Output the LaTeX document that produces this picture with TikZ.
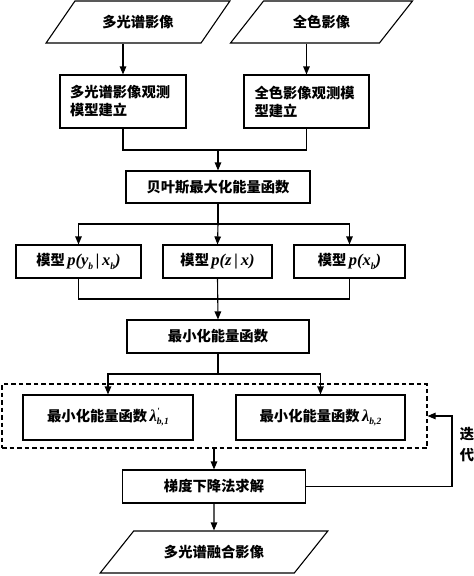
\documentclass[tikz,border=0pt]{standalone}
\usepackage{fontspec}
\setmainfont{Noto Sans CJK SC}
\newfontfamily\tms{Liberation Serif}
\newcommand\tbi[1]{{\fontsize{16.5}{18}\selectfont\tms\bfseries\itshape #1}}
\newcommand\sbs[1]{\raisebox{-0.45ex}{\fontsize{9.5}{10}\selectfont\tms\bfseries\itshape #1}}
\newcommand\sps[1]{\raisebox{0.85ex}{\fontsize{9.5}{10}\selectfont\tms\bfseries\itshape #1}}
\usetikzlibrary{arrows.meta,shapes.geometric}
\begin{document}
\begin{tikzpicture}[x=1pt,y=-1pt,line width=1.1pt,
  font=\fontsize{14.3}{18}\selectfont\bfseries,
  box/.style={draw, rectangle, inner sep=2pt, minimum height=33pt},
  para/.style={draw, trapezium, trapezium stretches=true, minimum height=42pt, inner sep=1pt},
  arr/.style={-{Triangle[length=8pt,width=6.5pt]}},
  dashbox/.style={draw, dashed, dash pattern=on 4.5pt off 3pt, rectangle, inner sep=0pt}]
\fill[white] (0,0) rectangle (474,576);
\useasboundingbox (0,0) rectangle (474,576);

% inputs
\node[para, minimum width=184pt, trapezium left angle=43.03, trapezium right angle=136.97] (ms) at (138,22) {多光谱影像};
\node[para, minimum width=183pt, trapezium left angle=43.03, trapezium right angle=136.97] (pan) at (321.5,22) {全色影像};

% observation models
\node[box, minimum width=126pt, minimum height=53pt, text width=106pt, align=left] (b1) at (123,101.5) {多光谱影像观测\\模型建立};
\node[box, minimum width=125pt, minimum height=53pt, text width=104pt, align=left] (b2) at (306.5,101.5) {全色影像观测模\\型建立};

\node[box, minimum width=184pt, minimum height=32pt] (b3) at (218,187) {贝叶斯最大化能量函数};

% three models
\node[box, minimum width=125pt] (pl) at (78.5,261.5) {模型\,\tbi{p(y\sbs{b}\,|\,x\sbs{b})}};
\node[box, minimum width=109pt] (pm) at (217.5,261.5) {模型\,\tbi{p(z\,|\,x)}};
\node[box, minimum width=111pt] (pr) at (349.5,261.5) {模型\,\tbi{p(x\sbs{b})}};

\node[box, minimum width=182pt] (b4) at (218,336.5) {最小化能量函数};

% dashed group
\node[dashbox, minimum width=425pt, minimum height=64pt] (dash) at (214.5,416) {};
\node[box, minimum width=170pt, minimum height=45pt] (ll) at (108,417.5) {最小化能量函数\,\tbi{λ}\rlap{\sps{'}}\sbs{b,1}};
\node[box, minimum width=169pt, minimum height=45pt] (lr) at (320.5,417.5) {最小化能量函数\,\tbi{λ}\sbs{b,2}};

\node[box, minimum width=183pt] (b5) at (214,486.5) {梯度下降法求解};

\node[para, minimum width=228pt, trapezium left angle=36.38, trapezium right angle=143.62] (out) at (214,552) {多光谱融合影像};

\node[align=center, font=\fontsize{14.3}{21}\selectfont\bfseries, inner sep=0pt] (iter) at (467,445) {迭\\代};

% connectors
\coordinate (m1) at (218,150);
\coordinate (s1) at (218,224);
\coordinate (s2) at (218,299);
\coordinate (s3) at (218,374);
\coordinate (fb) at (452,0);

\draw[arr] (b1.north |- ms.south) -- (b1.north);
\draw[arr] (b2.north |- pan.south) -- (b2.north);

\draw (b1.south) |- (m1) -| (b2.south);
\draw[arr] (m1) -- (b3.north);

\draw (b3.south) -- (s1);
\draw[arr] (s1) -| (pl.north);
\draw[arr] (s1) -| (pr.north);
\draw[arr] (s1) -- (pm.north);

\draw (pl.south) |- (s2) -| (pr.south);
\draw[arr] (pm.south) -- (b4.north);

\draw (b4.south) -- (s3);
\draw[arr] (s3) -| (ll.north);
\draw[arr] (s3) -| (lr.north);

\draw[arr] (dash.south -| b5.north) -- (b5.north);
\draw[arr] (b5.east) -- (b5.east -| fb) |- (dash.east);
\draw[arr] (b5.south) -- (out.north);
\end{tikzpicture}
\end{document}
